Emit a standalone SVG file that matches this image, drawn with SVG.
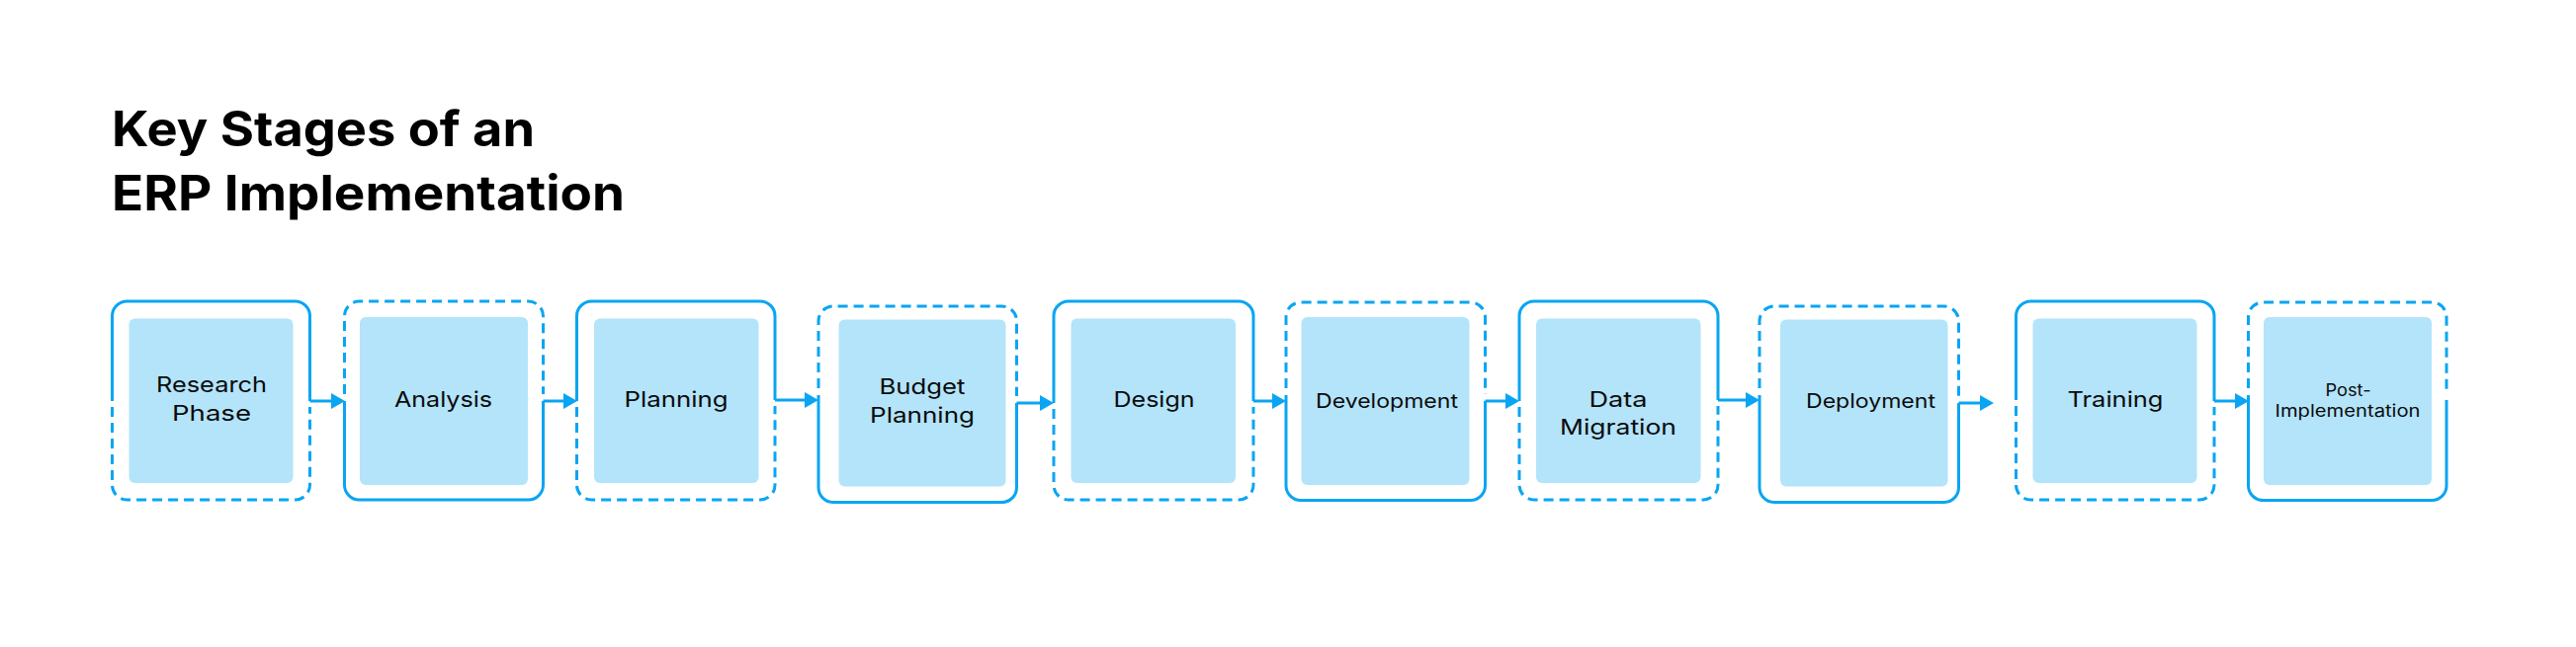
<svg xmlns="http://www.w3.org/2000/svg" width="2606" height="655" viewBox="0 0 2606 655">
<style>
.solid{fill:none;stroke:#0AA5F2;stroke-width:3;stroke-linejoin:round}
.dash{fill:none;stroke:#0AA5F2;stroke-width:3;stroke-dasharray:10 6}
.inner{fill:#B3E4FA}
.lbl{font-family:Inter,"Noto Sans","Liberation Sans",sans-serif;font-weight:400;font-size:22px;fill:#0b0b0b;text-anchor:middle}
.title{font-family:Inter,"Noto Sans","Liberation Sans",sans-serif;font-weight:700;font-size:49px;fill:#000}
.conn{fill:none;stroke:#0AA5F2;stroke-width:3}
</style>
<defs>
<marker id="ah" markerUnits="userSpaceOnUse" markerWidth="14" markerHeight="16" viewBox="0 0 14 16" refX="10" refY="8" orient="auto">
<path d="M0,0 L14,8 L0,16 z" fill="#0AA5F2"/>
</marker>
</defs>
<rect width="2606" height="655" fill="#fff"/>
<g id="title">
<text class="title" x="113" y="148" textLength="428" lengthAdjust="spacingAndGlyphs">Key Stages of an</text>
<text class="title" x="113" y="213" textLength="519" lengthAdjust="spacingAndGlyphs">ERP Implementation</text>
</g>
<g id="node-research">
<path class="solid" d="M113.5,406 V320 A15,15 0 0 1 128.5,305 H298.5 A15,15 0 0 1 313.5,320 V406"/>
<path class="dash" d="M113.5,412 V491 A15,15 0 0 0 128.5,506 H298.5 A15,15 0 0 0 313.5,491 V412"/>
<rect class="inner" x="130.5" y="322.5" width="166" height="166.5" rx="6"/>
<text class="lbl" x="214" y="397" textLength="112" lengthAdjust="spacingAndGlyphs">Research</text>
<text class="lbl" x="214" y="426" textLength="80" lengthAdjust="spacingAndGlyphs">Phase</text>
</g>
<g id="node-analysis">
<path class="solid" d="M348.5,406 V491 A15,15 0 0 0 363.5,506 H534.5 A15,15 0 0 0 549.5,491 V406"/>
<path class="dash" d="M348.5,399 V320 A15,15 0 0 1 363.5,305 H534.5 A15,15 0 0 1 549.5,320 V399"/>
<rect class="inner" x="364" y="321" width="170" height="170" rx="6"/>
<text class="lbl" x="448.5" y="412" textLength="99" lengthAdjust="spacingAndGlyphs">Analysis</text>
</g>
<g id="node-planning">
<path class="solid" d="M583.5,406 V320 A15,15 0 0 1 598.5,305 H769 A15,15 0 0 1 784,320 V405"/>
<path class="dash" d="M583.5,412 V491 A15,15 0 0 0 598.5,506 H769 A15,15 0 0 0 784,491 V411"/>
<rect class="inner" x="601" y="322.5" width="166.5" height="166.5" rx="6"/>
<text class="lbl" x="684" y="412" textLength="105" lengthAdjust="spacingAndGlyphs">Planning</text>
</g>
<g id="node-budget">
<path class="solid" d="M828,400 V493.5 A15,15 0 0 0 843,508.5 H1013.5 A15,15 0 0 0 1028.5,493.5 V408"/>
<path class="dash" d="M828,393 V325 A15,15 0 0 1 843,310 H1013.5 A15,15 0 0 1 1028.5,325 V401"/>
<rect class="inner" x="848.5" y="323.5" width="169" height="169" rx="6"/>
<text class="lbl" x="933" y="399" textLength="87" lengthAdjust="spacingAndGlyphs">Budget</text>
<text class="lbl" x="933" y="428" textLength="106" lengthAdjust="spacingAndGlyphs">Planning</text>
</g>
<g id="node-design">
<path class="solid" d="M1066,408 V320 A15,15 0 0 1 1081,305 H1253 A15,15 0 0 1 1268,320 V406"/>
<path class="dash" d="M1066,414 V491 A15,15 0 0 0 1081,506 H1253 A15,15 0 0 0 1268,491 V412"/>
<rect class="inner" x="1083.5" y="322.5" width="166.5" height="166.5" rx="6"/>
<text class="lbl" x="1167.5" y="412" textLength="82" lengthAdjust="spacingAndGlyphs">Design</text>
</g>
<g id="node-development">
<path class="solid" d="M1301,400 V491.5 A15,15 0 0 0 1316,506.5 H1487.5 A15,15 0 0 0 1502.5,491.5 V406"/>
<path class="dash" d="M1301,393 V321 A15,15 0 0 1 1316,306 H1487.5 A15,15 0 0 1 1502.5,321 V399"/>
<rect class="inner" x="1316.5" y="321" width="170" height="170" rx="6"/>
<text class="lbl" x="1403" y="413" style="font-size:20px" textLength="144" lengthAdjust="spacingAndGlyphs">Development</text>
</g>
<g id="node-data-migration">
<path class="solid" d="M1537,406 V320 A15,15 0 0 1 1552,305 H1723 A15,15 0 0 1 1738,320 V405"/>
<path class="dash" d="M1537,412 V491 A15,15 0 0 0 1552,506 H1723 A15,15 0 0 0 1738,491 V411"/>
<rect class="inner" x="1554" y="322.5" width="166.5" height="166.5" rx="6"/>
<text class="lbl" x="1637" y="412" textLength="59" lengthAdjust="spacingAndGlyphs">Data</text>
<text class="lbl" x="1637" y="440" textLength="118" lengthAdjust="spacingAndGlyphs">Migration</text>
</g>
<g id="node-deployment">
<path class="solid" d="M1780,400 V493.5 A15,15 0 0 0 1795,508.5 H1966.5 A15,15 0 0 0 1981.5,493.5 V408"/>
<path class="dash" d="M1780,393 V325 A15,15 0 0 1 1795,310 H1966.5 A15,15 0 0 1 1981.5,325 V401"/>
<rect class="inner" x="1801" y="323.5" width="169.5" height="169" rx="6"/>
<text class="lbl" x="1892.5" y="413" style="font-size:20px" textLength="131" lengthAdjust="spacingAndGlyphs">Deployment</text>
</g>
<g id="node-training">
<path class="solid" d="M2039.5,405 V320 A15,15 0 0 1 2054.5,305 H2225 A15,15 0 0 1 2240,320 V406"/>
<path class="dash" d="M2039.5,411 V491 A15,15 0 0 0 2054.5,506 H2225 A15,15 0 0 0 2240,491 V412"/>
<rect class="inner" x="2056.5" y="322.5" width="166" height="166.5" rx="6"/>
<text class="lbl" x="2140" y="412" textLength="97" lengthAdjust="spacingAndGlyphs">Training</text>
</g>
<g id="node-post-implementation">
<path class="solid" d="M2274.5,400 V491.5 A15,15 0 0 0 2289.5,506.5 H2460 A15,15 0 0 0 2475,491.5 V405"/>
<path class="dash" d="M2274.5,393 V321 A15,15 0 0 1 2289.5,306 H2460 A15,15 0 0 1 2475,321 V398"/>
<rect class="inner" x="2290" y="321" width="170" height="170" rx="6"/>
<text class="lbl" x="2375.5" y="401" style="font-size:17px" textLength="46" lengthAdjust="spacingAndGlyphs">Post-</text>
<text class="lbl" x="2375" y="422" style="font-size:17px" textLength="147" lengthAdjust="spacingAndGlyphs">Implementation</text>
</g>
<g id="connectors">
<path class="conn" marker-end="url(#ah)" d="M313.5,406 H345"/>
<path class="conn" marker-end="url(#ah)" d="M549.5,406 H580"/>
<path class="conn" marker-end="url(#ah)" d="M784,405 H824"/>
<path class="conn" marker-end="url(#ah)" d="M1028.5,408 H1062"/>
<path class="conn" marker-end="url(#ah)" d="M1268,406 H1297"/>
<path class="conn" marker-end="url(#ah)" d="M1502.5,406 H1533"/>
<path class="conn" marker-end="url(#ah)" d="M1738,405 H1776"/>
<path class="conn" marker-end="url(#ah)" d="M1981.5,408 H2013"/>
<path class="conn" marker-end="url(#ah)" d="M2240,406 H2271"/>
</g>
</svg>
